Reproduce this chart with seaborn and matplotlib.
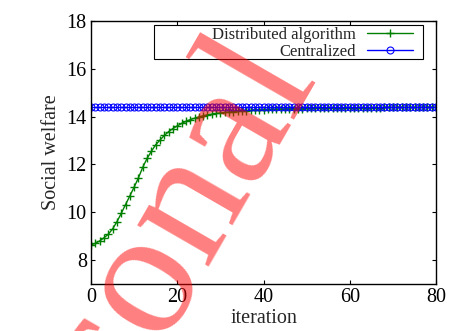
import matplotlib
matplotlib.use("Agg")
import matplotlib.pyplot as plt
from matplotlib.patches import Rectangle
import seaborn as sns
import pandas as pd

# iteration index and social welfare for each scheme
iterations = list(range(81))

distributed = [
    8.63, 8.70, 8.80, 8.93, 9.08, 9.30, 9.60, 9.95, 10.32, 10.68,
    11.05, 11.44, 11.88, 12.25, 12.55, 12.82, 13.02, 13.21, 13.37, 13.50,
    13.61, 13.71, 13.80, 13.87, 13.93, 13.98, 14.03, 14.07, 14.10, 14.13,
    14.15, 14.17, 14.19, 14.21, 14.22, 14.24, 14.25, 14.26, 14.27, 14.28,
    14.29, 14.30, 14.30, 14.31, 14.31, 14.32, 14.32, 14.33, 14.33, 14.33,
    14.34, 14.34, 14.34, 14.35, 14.35, 14.35, 14.35, 14.36, 14.36, 14.36,
    14.36, 14.36, 14.37, 14.37, 14.37, 14.37, 14.37, 14.37, 14.38, 14.38,
    14.38, 14.38, 14.38, 14.38, 14.38, 14.38, 14.38, 14.39, 14.39, 14.39,
    14.39,
]

centralized = [
    14.4, 14.4, 14.4, 14.4, 14.4, 14.4, 14.4, 14.4, 14.4, 14.4,
    14.4, 14.4, 14.4, 14.4, 14.4, 14.4, 14.4, 14.4, 14.4, 14.4,
    14.4, 14.4, 14.4, 14.4, 14.4, 14.4, 14.4, 14.4, 14.4, 14.4,
    14.4, 14.4, 14.4, 14.4, 14.4, 14.4, 14.4, 14.4, 14.4, 14.4,
    14.4, 14.4, 14.4, 14.4, 14.4, 14.4, 14.4, 14.4, 14.4, 14.4,
    14.4, 14.4, 14.4, 14.4, 14.4, 14.4, 14.4, 14.4, 14.4, 14.4,
    14.4, 14.4, 14.4, 14.4, 14.4, 14.4, 14.4, 14.4, 14.4, 14.4,
    14.4, 14.4, 14.4, 14.4, 14.4, 14.4, 14.4, 14.4, 14.4, 14.4,
    14.4,
]

series_names = ["Distributed algorithm", "Centralized"]
x_ticks = [0, 20, 40, 60, 80]
y_ticks = [8, 10, 12, 14, 16, 18]

df = pd.DataFrame({"iteration": iterations,
                   "distributed": distributed,
                   "centralized": centralized})

sns.set_style("ticks")
plt.rcParams["font.family"] = ["Liberation Serif", "DejaVu Serif"]

fig = plt.figure(figsize=(4.74, 3.31), dpi=100)
ax = fig.add_axes([0.192, 0.142, 0.728, 0.795])

sns.lineplot(data=df, x="iteration", y="distributed", ax=ax,
             color="#008000", linewidth=1.0, marker="+", markersize=5.5,
             markeredgecolor="#008000", markeredgewidth=1.0,
             label=series_names[0])
sns.lineplot(data=df, x="iteration", y="centralized", ax=ax,
             color="#0000ff", linewidth=1.0, marker="o", markersize=5,
             markerfacecolor="none", markeredgecolor="#0000ff",
             markeredgewidth=0.8, label=series_names[1])

ax.set_xlim(0, 80)
ax.set_ylim(7, 18)
ax.set_xticks(x_ticks)
ax.set_yticks(y_ticks)
ax.tick_params(direction="in", length=3.2, width=0.8, labelsize=14.5,
               top=True, right=True, pad=3, colors="black")
for side in ax.spines.values():
    side.set_linewidth(1.0)
    side.set_color("black")
    side.set_visible(True)

ax.set_xlabel("iteration", fontsize=14.5, labelpad=1.5)
ax.set_ylabel("Social welfare", fontsize=14.5, labelpad=4)

# key: wide box with right-aligned labels followed by line samples
ax.add_patch(Rectangle((0.183, 0.856), 0.962 - 0.183, 0.985 - 0.856,
                       transform=ax.transAxes, facecolor="white",
                       edgecolor="black", linewidth=0.8, zorder=4))
leg = ax.legend(loc="upper right", bbox_to_anchor=(0.9406, 0.985),
                borderaxespad=0, markerfirst=False, fontsize=12.0,
                frameon=False, handlelength=2.75, handletextpad=0.66,
                labelspacing=0.05, borderpad=0.15)
leg.set_zorder(5)

# red overlay stamp across the plot
fig.text(160 / 474, 1 - 343 / 331, "Personal", rotation=60,
         rotation_mode="anchor", ha="center", va="baseline",
         fontsize=130, color="red", alpha=0.5,
         family=["Liberation Serif"], zorder=10)

fig.savefig("out.png", dpi=100)
